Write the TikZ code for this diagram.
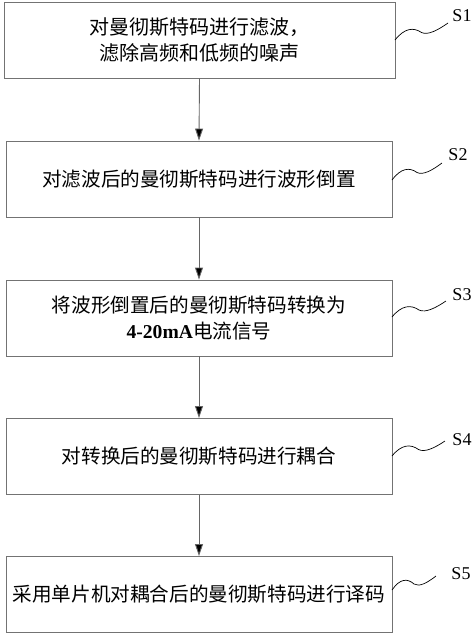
\documentclass[tikz,border=0pt]{standalone}
\usepackage{fontspec}
\setmainfont{Liberation Serif}
\newfontfamily\cjk{Noto Sans CJK SC}
\usetikzlibrary{arrows.meta,calc}
\tikzset{
  stepbox/.style={draw=black!55, line width=0.9pt, minimum height=76pt, inner sep=0pt, align=center, font=\fontsize{19.6}{26}\selectfont\cjk},
  flowarrow/.style={draw=black!60, line width=0.9pt, -{Triangle[length=12pt,width=8pt,fill=black]}},
  squig/.style={draw=black, line width=0.7pt},
  steplabel/.style={font=\fontsize{18}{20}\selectfont, inner sep=0pt}
}
\begin{document}
\begin{tikzpicture}[x=1pt,y=-1pt]
\useasboundingbox (0,0) rectangle (474,638);
\node[stepbox, minimum width=391pt, font=\fontsize{20}{26.5}\selectfont\cjk] (b1) at (199.5,40) {对曼彻斯特码进行滤波，\\滤除高频和低频的噪声};
\node[stepbox, minimum width=386pt] (b2) at (199,179) {对滤波后的曼彻斯特码进行波形倒置};
\node[stepbox, minimum width=386pt] (b3) at (199,318) {将波形倒置后的曼彻斯特码转换为\\{\rmfamily\bfseries 4-20mA}电流信号};
\node[stepbox, minimum width=386pt] (b4) at (199,456.5) {对转换后的曼彻斯特码进行耦合};
\node[stepbox, minimum width=386pt] (b5) at (199,594.5) {采用单片机对耦合后的曼彻斯特码进行译码};
\draw[flowarrow] (b1.south) -- (b2.north);
\draw[flowarrow] (b2.south) -- (b3.north);
\draw[flowarrow] (b3.south) -- (b4.north);
\draw[flowarrow] (b4.south) -- (b5.north);
% labels
\node[steplabel] (s1) at (462,16) {S1};
\node[steplabel] (s2) at (458,155) {S2};
\node[steplabel] (s3) at (462,295) {S3};
\node[steplabel] (s4) at (462,440) {S4};
\node[steplabel] (s5) at (461,574) {S5};
\coordinate (c1) at (395,40);
\coordinate (e1) at (448,23);
\coordinate (c2) at (392,180);
\coordinate (e2) at (442,163);
\coordinate (c3) at (392,317);
\coordinate (e3) at (446,301);
\coordinate (c4) at (392,456);
\coordinate (e4) at (445,441);
\coordinate (c5) at (392,590);
\coordinate (e5) at (436,576);
\foreach \i in {1,...,5}{
  \draw[squig] (c\i) .. controls ($(c\i)!0.18!(e\i)+(0,-9)$) and ($(c\i)!0.35!(e\i)+(0,-7)$) .. ($(c\i)!0.5!(e\i)+(0,1)$) .. controls ($(c\i)!0.62!(e\i)+(0,6)$) and ($(c\i)!0.8!(e\i)+(0,4)$) .. (e\i);
}
\end{tikzpicture}
\end{document}
